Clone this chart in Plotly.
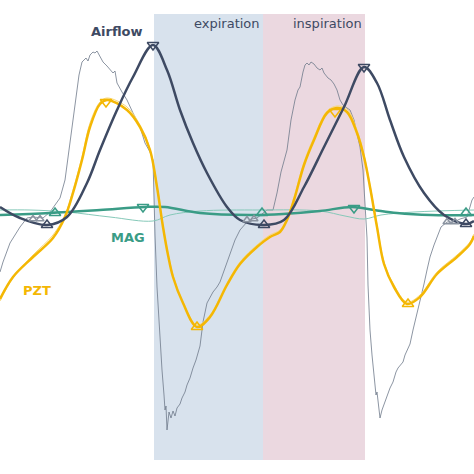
import plotly.graph_objects as go

# tiempo (s) y amplitud normalizada
t_flujo = [0, 0.4, 0.94, 1.34, 1.74, 2.0, 2.34, 2.66, 3.06, 3.34, 3.6, 3.86, 4.14, 4.54, 4.8,
           5.28, 5.68, 6.08, 6.48, 6.88, 7.28, 7.54, 7.8, 8.08, 8.48, 8.88, 9.32, 9.48]
flujo = [0.08, -0.03, -0.10, -0.02, 0.32, 0.65, 1.05, 1.38, 1.70, 1.45, 1.05, 0.72, 0.42, 0.08, -0.05,
         -0.10, -0.05, 0.28, 0.68, 1.08, 1.48, 1.32, 0.95, 0.58, 0.22, 0.0, -0.09, -0.06]

t_pzt = [0, 0.26, 0.66, 1.06, 1.3, 1.46, 1.64, 1.8, 2.0, 2.14, 2.54, 2.8, 3.0, 3.14, 3.26, 3.36,
         3.46, 3.66, 3.94, 4.2, 4.54, 4.8, 5.14, 5.4, 5.6, 5.74, 5.88, 6.08, 6.28, 6.54, 6.74,
         6.94, 7.14, 7.28, 7.4, 7.54, 7.68, 7.88, 8.14, 8.4, 8.74, 9.14, 9.4, 9.48]
pzt = [-0.84, -0.62, -0.42, -0.23, -0.02, 0.22, 0.55, 0.88, 1.11, 1.15, 1.05, 0.88, 0.65, 0.28, -0.12, -0.40,
       -0.62, -0.88, -1.12, -1.02, -0.70, -0.49, -0.32, -0.22, -0.17, -0.05, 0.15, 0.50, 0.75, 1.02, 1.07,
       1.03, 0.82, 0.58, 0.28, -0.12, -0.49, -0.72, -0.89, -0.82, -0.59, -0.42, -0.29, -0.21]
pzt_raw = [-0.86, -0.63, -0.40, -0.20, 0.0, 0.25, 0.58, 0.92, 1.13, 1.17, 1.08, 0.90, 0.66, 0.30, -0.10, -0.38,
           -0.60, -0.87, -1.10, -1.00, -0.68, -0.47, -0.30, -0.20, -0.15, -0.03, 0.18, 0.53, 0.78, 1.04, 1.09,
           1.06, 0.85, 0.60, 0.30, -0.10, -0.47, -0.70, -0.87, -0.80, -0.57, -0.40, -0.27, -0.19]

t_mag = [0, 1.0, 2.0, 2.9, 3.3, 4.0, 5.0, 5.66, 6.4, 7.04, 7.48, 7.94, 8.62, 9.48]
mag = [0.0, 0.02, 0.05, 0.08, 0.08, 0.02, 0.0, 0.01, 0.04, 0.08, 0.05, 0.02, 0.0, 0.0]
t_mag_raw = [0, 0.6, 1.34, 2.2, 3.06, 3.4, 4.0, 5.2, 6.4, 6.9, 7.28, 7.62, 8.28, 9.48]
mag_raw = [0.05, 0.05, 0.03, -0.02, -0.06, 0.0, 0.04, 0.05, 0.04, -0.01, -0.04, 0.0, 0.03, 0.05]

t_raw = [0, 0.06, 0.2, 0.4, 0.54, 0.66, 0.86, 1.0, 1.1, 1.2, 1.3, 1.34, 1.4, 1.46, 1.52, 1.58, 1.64,
         1.68, 1.72, 1.76, 1.8, 1.86, 1.9, 1.94, 2.0, 2.06, 2.14, 2.2, 2.26, 2.3, 2.34, 2.44, 2.54,
         2.66, 2.8, 2.9, 3.0, 3.06, 3.08, 3.1, 3.14, 3.2, 3.24, 3.28, 3.3, 3.32, 3.34, 3.38, 3.42,
         3.46, 3.5, 3.54, 3.6, 3.64, 3.7, 3.74, 3.8, 3.86, 3.92, 4.0, 4.06, 4.14, 4.2, 4.26, 4.34,
         4.4, 4.5, 4.6, 4.7, 4.8, 4.94, 5.04, 5.14, 5.24, 5.34, 5.46, 5.54, 5.62, 5.68, 5.74, 5.82,
         5.9, 5.96, 6.0, 6.06, 6.1, 6.14, 6.18, 6.22, 6.28, 6.34, 6.4, 6.44, 6.48, 6.56, 6.62, 6.68,
         6.74, 6.8, 6.86, 6.94, 7.0, 7.08, 7.14, 7.2, 7.26, 7.3, 7.34, 7.36, 7.4, 7.44, 7.48, 7.52,
         7.54, 7.58, 7.6, 7.64, 7.68, 7.72, 7.76, 7.8, 7.86, 7.92, 7.96, 8.0, 8.06, 8.1, 8.16, 8.2,
         8.26, 8.34, 8.4, 8.48, 8.54, 8.6, 8.68, 8.74, 8.82, 8.94, 9.08, 9.2, 9.34, 9.44, 9.48]
flujo_raw = [-0.57, -0.47, -0.28, -0.12, -0.03, -0.02, -0.03, 0.03, 0.10, 0.17, 0.35, 0.50, 0.75, 0.98, 1.23, 1.40, 1.53,
             1.55, 1.57, 1.54, 1.60, 1.63, 1.62, 1.64, 1.58, 1.53, 1.49, 1.45, 1.42, 1.44, 1.32, 1.23, 1.15,
             1.02, 0.88, 0.72, 0.63, 0.55, 0.15, -0.20, -0.72, -1.28, -1.55, -1.80, -1.95, -1.91, -2.15, -1.97, -2.03,
             -1.96, -2.01, -1.93, -1.89, -1.83, -1.77, -1.70, -1.63, -1.53, -1.45, -1.31, -1.07, -0.88, -0.82, -0.77, -0.72,
             -0.67, -0.53, -0.39, -0.25, -0.15, -0.07, -0.04, -0.03, 0.01, 0.05, 0.05, 0.22, 0.43, 0.55, 0.65, 0.95,
             1.15, 1.25, 1.28, 1.43, 1.50, 1.52, 1.50, 1.53, 1.51, 1.47, 1.45, 1.47, 1.42, 1.37, 1.35, 1.31,
             1.25, 1.15, 1.10, 1.07, 1.05, 0.95, 0.83, 0.68, 0.45, 0.15, -0.23, -0.70, -1.15, -1.40, -1.62, -1.80,
             -1.77, -1.95, -2.03, -1.95, -1.89, -1.83, -1.77, -1.73, -1.67, -1.57, -1.53, -1.51, -1.47, -1.40, -1.33, -1.29,
             -1.15, -0.99, -0.85, -0.69, -0.55, -0.42, -0.30, -0.22, -0.12, -0.07, -0.07, -0.04, -0.02, 0.15, 0.18]

# picos y valles detectados
t_flujo_max = [3.06, 7.28]
flujo_max = [1.70, 1.48]
t_flujo_min = [0.94, 5.28, 9.32]
flujo_min = [-0.10, -0.10, -0.09]
t_pzt_max = [2.12, 6.7]
pzt_max = [1.13, 1.03]
t_pzt_min = [3.94, 8.16]
pzt_min = [-1.12, -0.89]
t_mag_max = [2.86, 7.08]
mag_max = [0.08, 0.07]
t_mag_min = [1.1, 5.24, 9.32]
mag_min = [0.02, 0.02, 0.02]
t_raw_min = [0.66, 0.8, 4.94, 5.08, 8.94, 9.1]
raw_min = [-0.04, -0.04, -0.05, -0.04, -0.07, -0.07]

# fases
fases = ['expiration', 'inspiration']
fase_ini = [3.08, 5.26]
fase_fin = [5.26, 7.30]
fase_color = ['rgba(190,207,225,0.6)', 'rgba(218,184,199,0.55)']

NAVY = '#3e4a63'
YELLOW = '#f4b704'
TEAL = '#3a9c86'

fig = go.Figure()

fig.add_trace(go.Scatter(x=t_raw, y=flujo_raw, mode='lines',
                         line=dict(color='#6f7a8a', width=0.8)))
fig.add_trace(go.Scatter(x=t_mag_raw, y=mag_raw, mode='lines', line_shape='spline',
                         line=dict(color='#86c9b9', width=1)))
fig.add_trace(go.Scatter(x=t_pzt, y=pzt_raw, mode='lines', line_shape='spline',
                         line=dict(color='#f8d877', width=1)))

fig.add_trace(go.Scatter(x=t_mag, y=mag, mode='lines', line_shape='spline',
                         line=dict(color=TEAL, width=2.5)))
fig.add_trace(go.Scatter(x=t_pzt, y=pzt, mode='lines', line_shape='spline',
                         line=dict(color=YELLOW, width=2.5)))
fig.add_trace(go.Scatter(x=t_flujo, y=flujo, mode='lines', line_shape='spline',
                         line=dict(color=NAVY, width=2.5)))


def marcas(x, y, simbolo, color, size=10):
    fig.add_trace(go.Scatter(x=x, y=y, mode='markers',
                             marker=dict(symbol=simbolo, size=size, color=color,
                                         line=dict(color=color, width=1.5))))


marcas(t_raw_min, raw_min, 'triangle-up-open', '#8a93a0', 7)
marcas(t_flujo_max, flujo_max, 'triangle-down-open', NAVY)
marcas(t_flujo_min, flujo_min, 'triangle-up-open', NAVY)
marcas(t_pzt_max, pzt_max, 'triangle-down-open', YELLOW)
marcas(t_pzt_min, pzt_min, 'triangle-up-open', YELLOW)
marcas(t_mag_max, mag_max, 'triangle-down-open', TEAL)
marcas(t_mag_min, mag_min, 'triangle-up-open', TEAL)

for nombre, x0, x1, c in zip(fases, fase_ini, fase_fin, fase_color):
    fig.add_shape(type='rect', x0=x0, x1=x1, y0=-2.45, y1=2.01, xref='x', yref='y',
                  fillcolor=c, line_width=0, layer='below')
    fig.add_annotation(x=x1 - 0.03, y=2.01, text=nombre, showarrow=False,
                       xanchor='right', yanchor='top',
                       font=dict(size=13, color='#3e4a63'))

etiquetas = [('Airflow', 2.34, 1.84, NAVY), ('MAG', 2.56, -0.22, TEAL), ('PZT', 0.74, -0.75, YELLOW)]
for texto, x, y, c in etiquetas:
    fig.add_annotation(x=x, y=y, text='<b>' + texto + '</b>', showarrow=False,
                       font=dict(size=13, color=c))

fig.update_layout(
    width=474, height=474,
    margin=dict(l=0, r=0, t=0, b=0),
    paper_bgcolor='white', plot_bgcolor='white',
    showlegend=False,
    font=dict(family='DejaVu Sans'),
    xaxis=dict(range=[0, 9.48], visible=False),
    yaxis=dict(range=[-2.59, 2.15], visible=False)
)

# quitar el margen del body para que la figura ocupe toda la ventana
fig.write_html("out.html", config={'displayModeBar': False},
               post_script="document.body.style.margin='0';")
